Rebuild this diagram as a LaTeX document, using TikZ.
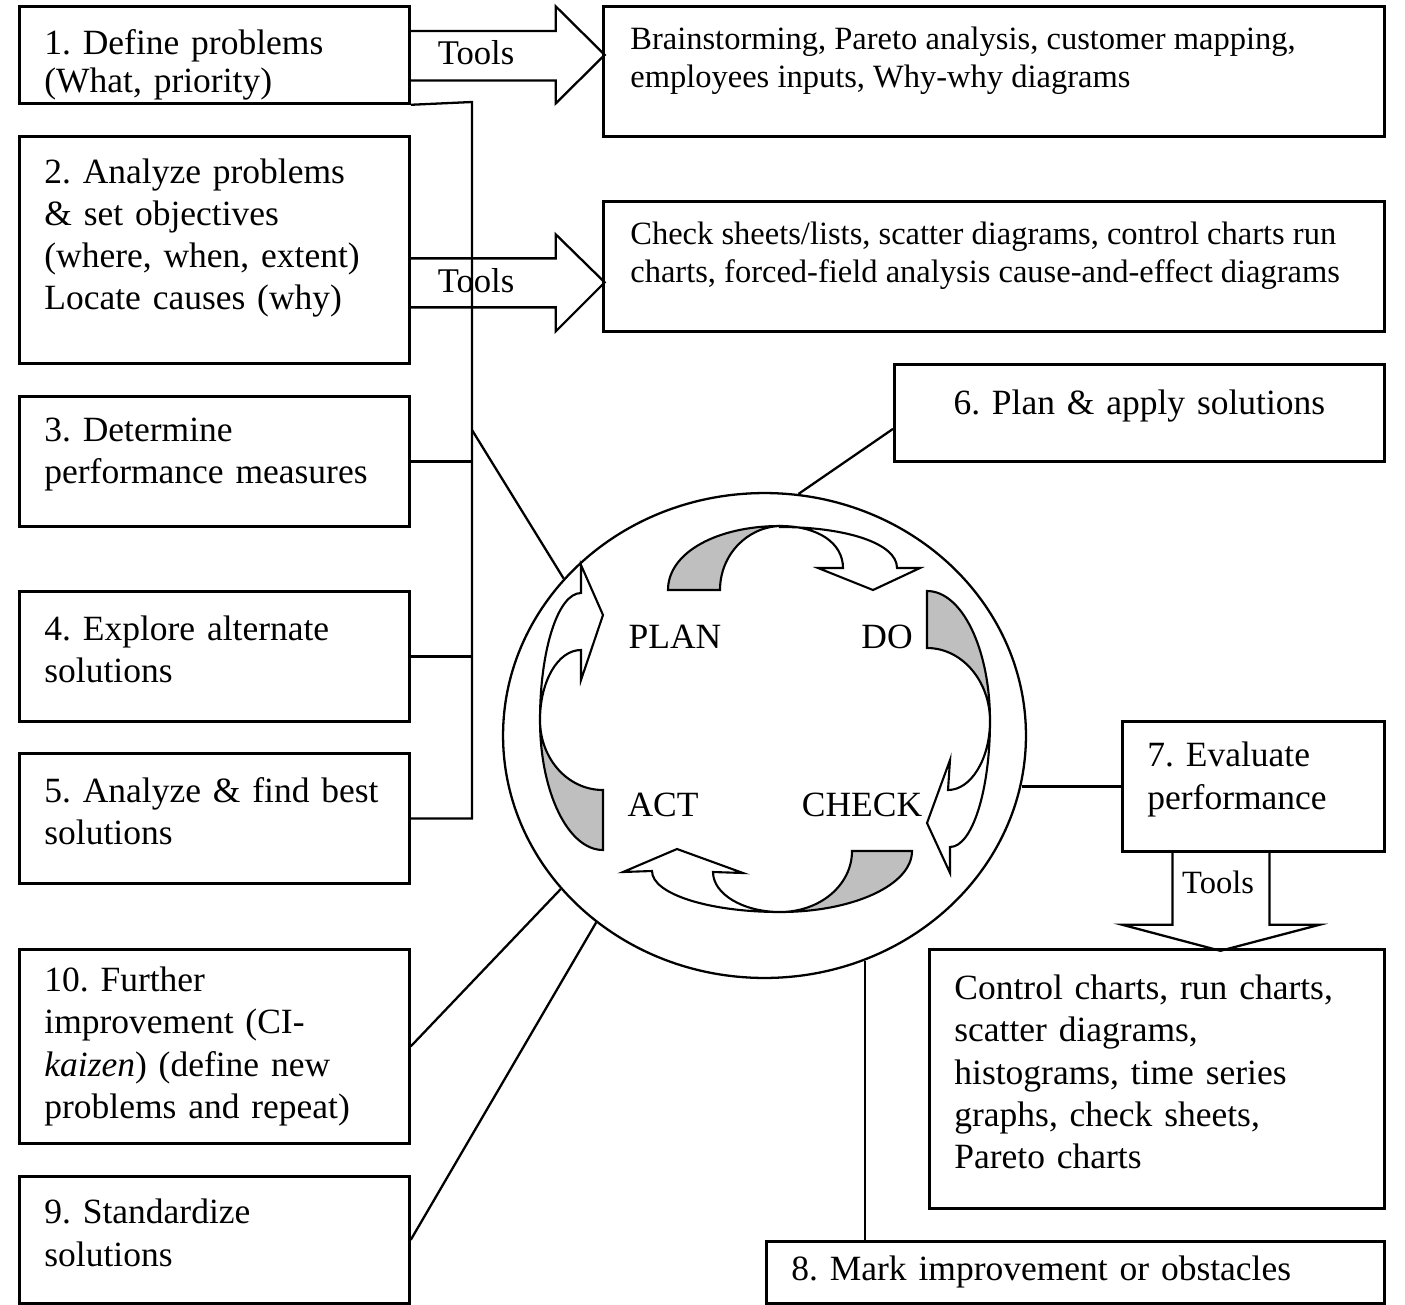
\documentclass[tikz,border=0pt]{standalone}
\usepackage{fontspec}
\setmainfont{Liberation Serif}
\usetikzlibrary{shapes.geometric,calc}

\newcommand{\boxfont}{\fontsize{20.2}{24}\selectfont\frenchspacing}
\newcommand{\toolfont}{\fontsize{18.5}{21.6}\selectfont\frenchspacing}
\newcommand{\tagfont}{\fontsize{19.7}{22}\selectfont}
\newcommand{\liftend}{\par\kern0.28cm}
\newcommand{\liftmore}{\par\kern0.48cm}

\begin{document}
\begin{tikzpicture}[x=0.02cm, y=-0.02cm,
  every node/.style={font=\boxfont},
  stepbox/.style={draw, line width=1.6pt, anchor=north west, align=left,
    inner xsep=0.5cm, inner ysep=0pt},
  lift/.style={execute at end node=\liftend},
  toolbox/.style={draw, line width=1.6pt, anchor=north west, inner sep=0pt},
  tooltext/.style={anchor=north west, align=left, inner sep=0pt, font=\toolfont},
  link/.style={line width=1.3pt},
  toolarrow/.style={line width=1.3pt, line join=miter},
  twist/.style={line width=1.2pt, line join=miter, fill=gray!50},
  twisthead/.style={line width=1.2pt, line join=miter, fill=white},
  phase/.style={inner sep=0pt}]
  \useasboundingbox (0,0) rectangle (1405,1304);

  %% Left column of steps
  \node[stepbox, text width=6.8cm, minimum height=1.94cm,
    font=\fontsize{20.2}{21.6}\selectfont\frenchspacing] (define) at (18,5)
    {\rule{0pt}{0.88cm}1. Define problems\\(What, priority)};
  \node[stepbox, text width=6.8cm, minimum height=4.54cm,
    execute at end node=\liftmore] (analyze) at (18,135)
    {2. Analyze problems\\\& set objectives\\(where, when, extent)\\Locate causes (why)};
  \node[stepbox, lift, text width=6.8cm, minimum height=2.6cm] (measures) at (18,395)
    {3. Determine\\performance measures};
  \node[stepbox, lift, text width=6.8cm, minimum height=2.6cm] (explore) at (18,590)
    {4. Explore alternate\\solutions};
  \node[stepbox, lift, text width=6.8cm, minimum height=2.6cm] (best) at (18,752)
    {5. Analyze \& find best\\solutions};
  \node[stepbox, text width=6.8cm, minimum height=3.88cm] (further) at (18,948)
    {10. Further\\improvement (CI-\\\textit{kaizen}) (define new\\problems and repeat)};
  \node[stepbox, lift, text width=6.8cm, minimum height=2.54cm] (standardize) at (18,1175)
    {9. Standardize\\solutions};

  %% Right column of steps
  \node[stepbox, lift, align=center, text width=8.8cm, minimum height=1.94cm] (apply) at (893,363)
    {6. Plan \& apply solutions};
  \node[stepbox, lift, text width=4.24cm, minimum height=2.6cm] (evaluate) at (1121,720)
    {7. Evaluate\\performance};
  \node[stepbox, text width=11.36cm, minimum height=1.24cm] (mark) at (765,1240)
    {8. Mark improvement or obstacles};

  %% Tool boxes
  \node[toolbox, minimum width=15.62cm, minimum height=2.6cm] (tools1) at (602,5) {};
  \node[tooltext] (tools1 text) at ($(tools1.north west)+(28,22)$)
    {Brainstorming, Pareto analysis, customer mapping,\\employees inputs, Why-why diagrams};
  \node[toolbox, minimum width=15.62cm, minimum height=2.6cm] (tools2) at (602,200) {};
  \node[tooltext] (tools2 text) at ($(tools2.north west)+(28,22)$)
    {Check sheets/lists, scatter diagrams, control charts run\\charts, forced-field analysis cause-and-effect diagrams};
  \node[stepbox, lift, text width=8.1cm, minimum height=5.18cm] (tools3) at (928,948)
    {Control charts, run charts,\\scatter diagrams,\\histograms, time series\\graphs, check sheets,\\Pareto charts};

  %% Tools arrows
  \draw[toolarrow] ($(define.east)+(0,-24)$) -- ++(145,0) -- ++(0,-24.5) -- ++(49,48.5)
    -- ++(-49,48.5) -- ++(0,-23) -- ++(-145,0);
  \node[font=\tagfont] (tag1) at (476,53) {Tools};
  \draw[toolarrow] ($(analyze.east)+(0,8.5)$) -- ++(145,0) -- ++(0,-24) -- ++(49,48)
    -- ++(-49,49) -- ++(0,-24) -- ++(-145,0);
  \node[font=\tagfont] (tag2) at (476,281) {Tools};
  \draw[toolarrow] ($(evaluate.south)+(-81,0)$) -- ++(0,72) -- ++(-50,0) -- ++(98,26)
    -- ++(99,-26) -- ++(-50,0) -- ++(0,-72);
  \node[font=\toolfont] (tag3) at (1218,882) {Tools};

  %% Bus joining steps 1 to 5
  \coordinate (bus top) at (472,102);
  \coordinate (bus tap) at (472,430);
  \draw[link] (define.south east) -- (bus top) -- (best.east -| bus top) -- (best.east);
  \draw[link] ($(analyze.east)+(0,-16.5)$) -- ($(analyze.east)+(0,-16.5)$ -| bus top);
  \draw[link] (measures.east) -- (measures.east -| bus top);
  \draw[link] (explore.east) -- (explore.east -| bus top);

  %% PDCA wheel
  \node[draw, ellipse, line width=1.3pt, minimum width=10.46cm, minimum height=9.7cm,
    inner sep=0pt] (pdca) at (764.5,735.5) {};
  \draw[link] (bus tap) -- (pdca.142);
  \draw[link] ($(apply.west)+(0,16)$) -- (pdca.82.2);
  \draw[link] (evaluate.west) -- (evaluate.west -| pdca.-10.9);
  \draw[link] (further.east) -- (pdca.217.3);
  \draw[link] (standardize.east) -- (pdca.228.2);
  \draw[link] (pdca.-66.6) -- (pdca.-66.6 |- mark.north);

  %% Twisted arrows: PLAN -> DO
  \draw[twist] (668,590) .. controls (668,552) and (718,526) .. (780,526)
    .. controls (747,527) and (720,555) .. (720,590) -- cycle;
  \draw[twisthead] (780,526) .. controls (818,526) and (843,543) .. (843,568)
    -- (818,568) -- (873,590) -- (920,568) -- (897,568)
    .. controls (897,543) and (845,527) .. (780,527) -- cycle;
  %% DO -> CHECK
  \draw[twist] (927,591) .. controls (962,591) and (990,649) .. (990,721)
    .. controls (990,681) and (962,648) .. (927,648) -- cycle;
  \draw[twisthead] (990,721) .. controls (990,759) and (971,790) .. (948,790)
    -- (950,760) -- (927,823) -- (950,873) -- (950,847)
    .. controls (972,847) and (990,791) .. (990,721) -- cycle;
  %% CHECK -> ACT
  \draw[twist] (912,851) .. controls (912,885) and (853,912) .. (780,912)
    .. controls (820,912) and (852,885) .. (852,851) -- cycle;
  \draw[twisthead] (780,912) .. controls (743,912) and (713,894) .. (713,872)
    -- (743,873) -- (677,849) -- (623,872) -- (652,871)
    .. controls (652,894) and (709,912) .. (780,912) -- cycle;
  %% ACT -> PLAN
  \draw[twist] (603,850) .. controls (568,850) and (540,792) .. (540,720)
    .. controls (540,759) and (568,790) .. (603,790) -- cycle;
  \draw[twisthead] (540,720) .. controls (540,681) and (558,650) .. (581,650)
    -- (581,680) -- (603,615) -- (581,565) -- (581,593)
    .. controls (558,593) and (540,650) .. (540,720) -- cycle;

  \node[phase] (plan) at (675,637) {PLAN};
  \node[phase] (do) at (887,637) {DO};
  \node[phase] (act) at (663,805) {ACT};
  \node[phase] (check) at (862,805) {CHECK};
\end{tikzpicture}
\end{document}
